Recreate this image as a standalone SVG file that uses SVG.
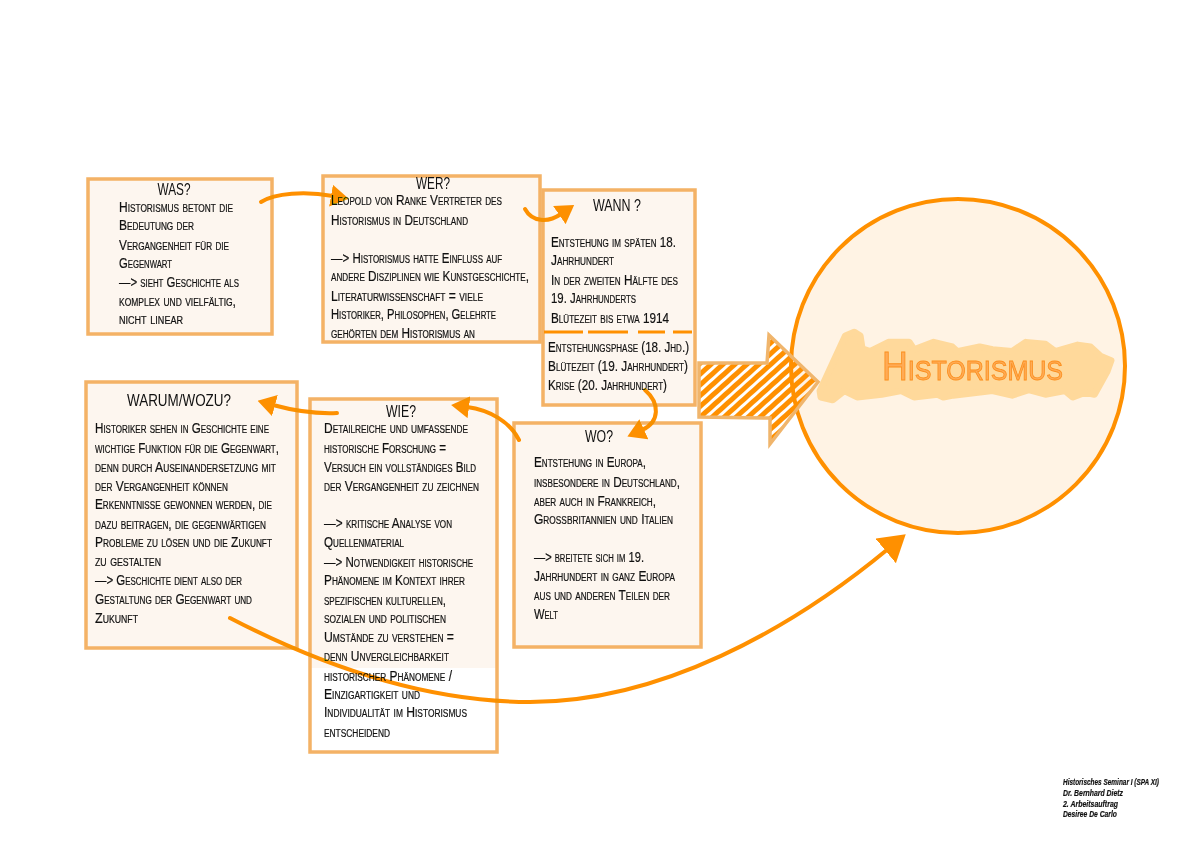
<svg xmlns="http://www.w3.org/2000/svg" width="1200" height="849" viewBox="0 0 1200 849">
<style>
.box{fill:#fdf6ef;stroke:#f4b266;stroke-width:3.5}
.t{font-family:"Liberation Sans",Arial,sans-serif;font-size:14.5px;font-variant:small-caps;fill:#111;stroke:#111;stroke-width:.2}
.h{font-family:"Liberation Sans",Arial,sans-serif;font-size:17px;fill:#111;text-anchor:middle}
.c{fill:none;stroke:#ff9000;stroke-width:4;stroke-linecap:round}
.f{font-family:"Liberation Sans",Arial,sans-serif;font-size:8.5px;font-weight:bold;font-style:italic;fill:#111;stroke:#111;stroke-width:.2}
#connectors{mix-blend-mode:darken}
</style>
<defs>
<marker id="head" markerUnits="userSpaceOnUse" markerWidth="18" markerHeight="22" viewBox="0 0 18 22" refX="2" refY="11" orient="auto"><polygon points="0,0 18,11 0,22" fill="#ff9000"/></marker>
<marker id="bighead" markerUnits="userSpaceOnUse" markerWidth="26" markerHeight="32" viewBox="0 0 26 32" refX="3" refY="16" orient="auto"><polygon points="0,0 26,16 0,32" fill="#ff9000"/></marker>
<pattern id="hatch" patternUnits="userSpaceOnUse" width="8" height="8" patternTransform="rotate(-42 0 0)"><rect width="8" height="5" fill="#ff9000"/></pattern>
</defs>

<g id="node-historismus">
<circle cx="958" cy="366" r="167" fill="#fff3e4" stroke="#ff9000" stroke-width="4"/>
<path transform="translate(966 366) scale(0.98 0.92) translate(-966 -366)" fill="#ffd99b" stroke="#ffd99b" stroke-width="7" stroke-linejoin="round" d="M817,393 L843,333 L852,329 L858,333 L860,347 L868,350 L887,340 L908,340 L913,348 L933,340 L952,345 L957,350 L980,345 L993,348 L1013,350 L1027,340 L1047,342 L1057,350 L1080,343 L1093,345 L1103,355 L1114,360 L1110,372 L1097,397 L1087,395 L1075,400 L1067,393 L1047,397 L1030,392 L1013,398 L993,393 L953,398 L943,400 L937,397 L913,400 L900,393 L880,397 L855,400 L842,393 L830,403 L818,400 Z"/>
<text x="882" y="380" textLength="181" lengthAdjust="spacingAndGlyphs" font-family="'Liberation Sans',Arial,sans-serif" font-size="40" font-variant="small-caps" fill="#ffab55" stroke="#fb8f1e" stroke-width="0.9">Historismus</text>
</g>

<g id="node-arrow">
<polygon points="699,363 767,363 769,335 818,382 770,444 770,418 699,417" fill="url(#hatch)" stroke="#f0b56c" stroke-width="3.5"/>
</g>

<g id="node-was">
<rect class="box" x="88" y="179" width="184" height="155"/>
<text class="h" x="174" y="195" textLength="33" lengthAdjust="spacingAndGlyphs">WAS?</text>
<text class="t" x="119" y="212" textLength="114" lengthAdjust="spacingAndGlyphs">Historismus betont die</text>
<text class="t" x="119" y="230" textLength="75" lengthAdjust="spacingAndGlyphs">Bedeutung der</text>
<text class="t" x="119" y="250" textLength="110" lengthAdjust="spacingAndGlyphs">Vergangenheit für die</text>
<text class="t" x="119" y="268" textLength="53" lengthAdjust="spacingAndGlyphs">Gegenwart</text>
<text class="t" x="119" y="287" textLength="120" lengthAdjust="spacingAndGlyphs">—&gt; sieht Geschichte als</text>
<text class="t" x="119" y="306" textLength="117" lengthAdjust="spacingAndGlyphs">komplex und vielfältig,</text>
<text class="t" x="119" y="324" textLength="64" lengthAdjust="spacingAndGlyphs">nicht linear</text>
</g>

<g id="node-wer">
<rect class="box" x="323" y="176" width="217" height="166"/>
<text class="h" x="433" y="189" textLength="34" lengthAdjust="spacingAndGlyphs">WER?</text>
<text class="t" x="331" y="205" textLength="171" lengthAdjust="spacingAndGlyphs">Leopold von Ranke Vertreter des</text>
<text class="t" x="331" y="225" textLength="137" lengthAdjust="spacingAndGlyphs">Historismus in Deutschland</text>
<text class="t" x="331" y="263" textLength="171" lengthAdjust="spacingAndGlyphs">—&gt; Historismus hatte Einfluss auf</text>
<text class="t" x="331" y="281" textLength="198" lengthAdjust="spacingAndGlyphs">andere Disziplinen wie Kunstgeschichte,</text>
<text class="t" x="331" y="301" textLength="152" lengthAdjust="spacingAndGlyphs">Literaturwissenschaft = viele</text>
<text class="t" x="331" y="319" textLength="165" lengthAdjust="spacingAndGlyphs">Historiker, Philosophen, Gelehrte</text>
<text class="t" x="331" y="338" textLength="144" lengthAdjust="spacingAndGlyphs">gehörten dem Historismus an</text>
</g>

<g id="node-wann">
<rect class="box" x="543" y="190" width="152" height="215"/>
<text class="h" x="617" y="211" textLength="48" lengthAdjust="spacingAndGlyphs">WANN ?</text>
<text class="t" x="551" y="247" textLength="125" lengthAdjust="spacingAndGlyphs">Entstehung im späten 18.</text>
<text class="t" x="551" y="265" textLength="63" lengthAdjust="spacingAndGlyphs">Jahrhundert</text>
<text class="t" x="551" y="285" textLength="127" lengthAdjust="spacingAndGlyphs">In der zweiten Hälfte des</text>
<text class="t" x="551" y="303" textLength="85" lengthAdjust="spacingAndGlyphs">19. Jahrhunderts</text>
<text class="t" x="551" y="323" textLength="118" lengthAdjust="spacingAndGlyphs">Blütezeit bis etwa 1914</text>
<path d="M544,332H583M588,332H628M638,332H665M673,332H692" fill="none" stroke="#ff9000" stroke-width="3"/>
<text class="t" x="548" y="352" textLength="141" lengthAdjust="spacingAndGlyphs">Entstehungsphase (18. Jhd.)</text>
<text class="t" x="548" y="371" textLength="140" lengthAdjust="spacingAndGlyphs">Blütezeit (19. Jahrhundert)</text>
<text class="t" x="548" y="390" textLength="119" lengthAdjust="spacingAndGlyphs">Krise (20. Jahrhundert)</text>
</g>

<g id="node-wo">
<rect class="box" x="514" y="423" width="187" height="224"/>
<text class="h" x="599" y="442" textLength="28" lengthAdjust="spacingAndGlyphs">WO?</text>
<text class="t" x="534" y="467" textLength="112" lengthAdjust="spacingAndGlyphs">Entstehung in Europa,</text>
<text class="t" x="534" y="487" textLength="146" lengthAdjust="spacingAndGlyphs">insbesondere in Deutschland,</text>
<text class="t" x="534" y="506" textLength="122" lengthAdjust="spacingAndGlyphs">aber auch in Frankreich,</text>
<text class="t" x="534" y="524" textLength="139" lengthAdjust="spacingAndGlyphs">Grossbritannien und Italien</text>
<text class="t" x="534" y="562" textLength="110" lengthAdjust="spacingAndGlyphs">—&gt; breitete sich im 19.</text>
<text class="t" x="534" y="581" textLength="141" lengthAdjust="spacingAndGlyphs">Jahrhundert in ganz Europa</text>
<text class="t" x="534" y="600" textLength="136" lengthAdjust="spacingAndGlyphs">aus und anderen Teilen der</text>
<text class="t" x="534" y="619" textLength="24" lengthAdjust="spacingAndGlyphs">Welt</text>
</g>

<g id="node-wie">
<rect x="310" y="399" width="187" height="269" fill="#fdf6ef"/>
<rect x="310" y="399" width="187" height="353" fill="none" stroke="#f4b266" stroke-width="3.5"/>
<text class="h" x="401" y="417" textLength="30" lengthAdjust="spacingAndGlyphs">WIE?</text>
<text class="t" x="324" y="433" textLength="144" lengthAdjust="spacingAndGlyphs">Detailreiche und umfassende</text>
<text class="t" x="324" y="453" textLength="122" lengthAdjust="spacingAndGlyphs">historische Forschung =</text>
<text class="t" x="324" y="472" textLength="152" lengthAdjust="spacingAndGlyphs">Versuch ein vollständiges Bild</text>
<text class="t" x="324" y="491" textLength="155" lengthAdjust="spacingAndGlyphs">der Vergangenheit zu zeichnen</text>
<text class="t" x="324" y="528" textLength="128" lengthAdjust="spacingAndGlyphs">—&gt; kritische Analyse von</text>
<text class="t" x="324" y="547" textLength="80" lengthAdjust="spacingAndGlyphs">Quellenmaterial</text>
<text class="t" x="324" y="567" textLength="149" lengthAdjust="spacingAndGlyphs">—&gt; Notwendigkeit historische</text>
<text class="t" x="324" y="585" textLength="141" lengthAdjust="spacingAndGlyphs">Phänomene im Kontext ihrer</text>
<text class="t" x="324" y="605" textLength="122" lengthAdjust="spacingAndGlyphs">spezifischen kulturellen,</text>
<text class="t" x="324" y="623" textLength="122" lengthAdjust="spacingAndGlyphs">sozialen und politischen</text>
<text class="t" x="324" y="642" textLength="130" lengthAdjust="spacingAndGlyphs">Umstände zu verstehen =</text>
<text class="t" x="324" y="661" textLength="125" lengthAdjust="spacingAndGlyphs">denn Unvergleichbarkeit</text>
<text class="t" x="324" y="681" textLength="128" lengthAdjust="spacingAndGlyphs">historischer Phänomene /</text>
<text class="t" x="324" y="699" textLength="96" lengthAdjust="spacingAndGlyphs">Einzigartigkeit und</text>
<text class="t" x="324" y="717" textLength="143" lengthAdjust="spacingAndGlyphs">Individualität im Historismus</text>
<text class="t" x="324" y="737" textLength="66" lengthAdjust="spacingAndGlyphs">entscheidend</text>
</g>

<g id="node-warum">
<rect class="box" x="86" y="382" width="211" height="266"/>
<text class="h" x="179" y="406" textLength="104" lengthAdjust="spacingAndGlyphs">WARUM/WOZU?</text>
<text class="t" x="95" y="433" textLength="174" lengthAdjust="spacingAndGlyphs">Historiker sehen in Geschichte eine</text>
<text class="t" x="95" y="453" textLength="184" lengthAdjust="spacingAndGlyphs">wichtige Funktion für die Gegenwart,</text>
<text class="t" x="95" y="472" textLength="181" lengthAdjust="spacingAndGlyphs">denn durch Auseinandersetzung mit</text>
<text class="t" x="95" y="491" textLength="133" lengthAdjust="spacingAndGlyphs">der Vergangenheit können</text>
<text class="t" x="95" y="509" textLength="177" lengthAdjust="spacingAndGlyphs">Erkenntnisse gewonnen werden, die</text>
<text class="t" x="95" y="529" textLength="171" lengthAdjust="spacingAndGlyphs">dazu beitragen, die gegenwärtigen</text>
<text class="t" x="95" y="547" textLength="177" lengthAdjust="spacingAndGlyphs">Probleme zu lösen und die Zukunft</text>
<text class="t" x="95" y="566" textLength="66" lengthAdjust="spacingAndGlyphs">zu gestalten</text>
<text class="t" x="95" y="585" textLength="147" lengthAdjust="spacingAndGlyphs">—&gt; Geschichte dient also der</text>
<text class="t" x="95" y="604" textLength="157" lengthAdjust="spacingAndGlyphs">Gestaltung der Gegenwart und</text>
<text class="t" x="95" y="623" textLength="43" lengthAdjust="spacingAndGlyphs">Zukunft</text>
</g>

<g id="connectors">
<path class="c" marker-end="url(#head)" d="M261,202 C275,193 305,191 333,196"/>
<path class="c" marker-end="url(#head)" d="M525,209 C532,222 548,223 561,214"/>
<path class="c" marker-end="url(#head)" d="M645,390 C660,403 660,422 642,430"/>
<path class="c" marker-end="url(#head)" d="M519,440 C510,422 490,410 467,407"/>
<path class="c" marker-end="url(#head)" d="M337,413 C315,414 295,411 273,405"/>
<path class="c" marker-end="url(#bighead)" d="M230,618 C330,670 430,702 530,702 C660,702 790,630 888,549"/>
</g>

<g id="footer">
<text class="f" x="1063" y="785" textLength="96" lengthAdjust="spacingAndGlyphs">Historisches Seminar I (SPA XI)</text>
<text class="f" x="1063" y="796" textLength="60" lengthAdjust="spacingAndGlyphs">Dr. Bernhard Dietz</text>
<text class="f" x="1063" y="807" textLength="55" lengthAdjust="spacingAndGlyphs">2. Arbeitsauftrag</text>
<text class="f" x="1063" y="817" textLength="54" lengthAdjust="spacingAndGlyphs">Desiree De Carlo</text>
</g>
</svg>
